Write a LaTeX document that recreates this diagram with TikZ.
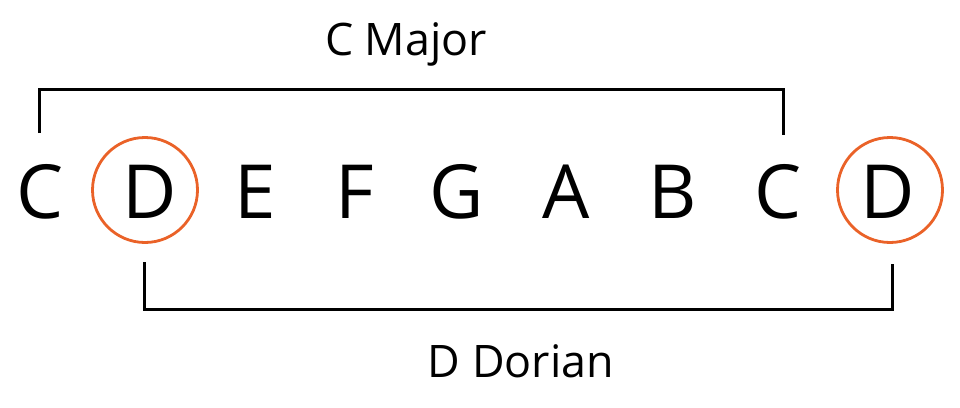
\documentclass[tikz,border=0pt]{standalone}
\usepackage{fontspec}
\setmainfont{Open Sans}
\usetikzlibrary{calc}
\definecolor{dorianorange}{RGB}{234,98,40}
\tikzset{
	note/.style={anchor=base, inner sep=0pt, font=\fontsize{56}{60}\selectfont},
	label/.style={anchor=base, inner sep=0pt, font=\fontsize{33.6}{38}\selectfont},
	bracket/.style={line width=2.25pt, line cap=butt, line join=miter},
	ring/.style={line width=2.1pt, color=dorianorange}
}

\begin{document}
\begin{tikzpicture}[x=0.75pt, y=-0.75pt]
			%%%%% START %%%%%
			\useasboundingbox (0, 0) rectangle (960, 407);
			
			\node[note] (c1) at (40, 218) {C};
			\node[note] (d1) at (150, 218) {D};
			\node[note] (e1) at (255, 218) {E};
			\node[note] (f1) at (355, 218) {F};
			\node[note] (g1) at (457, 218) {G};
			\node[note] (a1) at (566, 218) {A};
			\node[note] (b1) at (673, 218) {B};
			\node[note] (c2) at (778, 218) {C};
			\node[note] (d2) at (888, 218) {D};
			
			\draw[ring] (145, 190) circle (52.5);
			\draw[ring] (890, 190) circle (52.5);
			
			\coordinate (majorL) at (39, 133);
			\coordinate (majorR) at (783, 135);
			\coordinate (dorianL) at (144, 262);
			\coordinate (dorianR) at (892, 264);
			
			\draw[bracket] (majorL) -- (39, 89) -- (783, 89) -- (majorR);
			\draw[bracket] (dorianL) -- (144, 309) -- (892, 309) -- (dorianR);
			
			\node[label] (major) at (406, 55) {C Major};
			\node[label] (dorian) at (521, 377) {D Dorian};
			
			%%%%% END %%%%%
\end{tikzpicture}
\end{document}
